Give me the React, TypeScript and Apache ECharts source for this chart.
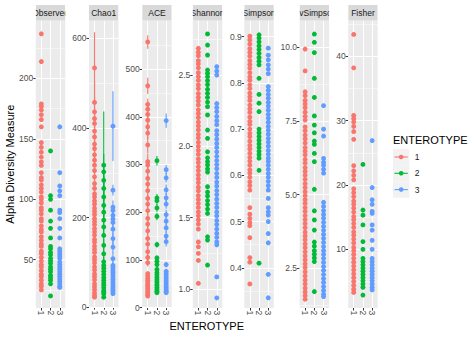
import React, { useEffect, useRef } from "react";
import * as echarts from "echarts";

// ---------- data ----------
const groupNames = ["1", "2", "3"];
const groupColors = ["#F8766D", "#00BA38", "#619CFF"];
const measureNames = ["Observed", "Chao1", "ACE", "Shannon", "Simpson", "InvSimpson", "Fisher"];

const observedG1 = [237, 214, 179, 177, 174, 170, 166, 160, 147, 143, 139, 135, 131, 128, 122, 118, 116, 112, 109, 106, 102, 100, 97, 93, 91, 88, 84, 82, 78, 75, 73, 69, 66, 63, 61, 57, 55, 52, 49, 46, 44, 41, 38, 36, 33, 30, 28, 25];
const observedG2 = [140, 103, 100, 91, 82, 76, 68, 61, 59, 56, 54, 51, 49, 47, 44, 42, 40, 37, 35, 33, 30, 20];
const observedG3 = [160, 122, 111, 107, 103, 91, 89, 84, 76, 68, 59, 57, 55, 53, 51, 48, 46, 44, 42, 40, 38, 36, 34, 32, 30, 28, 27];

// [value, standard error]
const chao1G1 = [[534, 80], [457, 45], [436, 35], [421, 30], [410, 28], [393, 26], [380, 25], [364, 24], [354, 22], [340, 22], [328, 20], [317, 20], [305, 18], [291, 18], [276, 16], [265, 15], [253, 14], [246, 14], [237, 13], [230, 13], [221, 12], [214, 12], [207, 12], [198, 11], [191, 11], [184, 10], [175, 10], [168, 10], [161, 10], [151, 9], [145, 9], [136, 9], [129, 8], [122, 8], [112, 8], [106, 8], [99, 7], [90, 7], [83, 7], [74, 6], [68, 6], [61, 6], [52, 5], [46, 5], [39, 5], [32, 5], [26, 4], [22, 4]];
const chao1G2 = [[317, 120], [302, 40], [283, 30], [265, 28], [246, 25], [227, 24], [212, 22], [194, 20], [179, 20], [160, 18], [138, 15], [119, 14], [101, 12], [93, 10], [87, 10], [80, 9], [73, 8], [66, 8], [60, 7], [54, 7], [49, 6], [43, 6], [37, 5], [33, 5], [29, 5], [22, 4]];
const chao1G3 = [[404, 78], [261, 12], [223, 15], [216, 12], [205, 12], [197, 11], [189, 11], [174, 15], [153, 14], [134, 14], [108, 14], [93, 9], [88, 8], [82, 8], [77, 7], [72, 7], [67, 7], [62, 6], [57, 6], [52, 6], [47, 5], [43, 5], [39, 5], [35, 5], [30, 4]];

const aceG1 = [[557, 14], [465, 17], [426, 12], [416, 12], [405, 12], [393, 12], [379, 13], [366, 13], [341, 18], [306, 16], [299, 10], [286, 10], [271, 10], [259, 10], [245, 10], [229, 10], [217, 10], [203, 10], [187, 10], [175, 10], [161, 10], [145, 10], [133, 10], [117, 10], [105, 9], [94, 8], [71, 5], [66, 5], [61, 5], [57, 5], [52, 4], [48, 4], [44, 4], [40, 4], [35, 4], [31, 3], [27, 3], [24, 3]];
const aceG2 = [[308, 10], [230, 8], [224, 8], [209, 8], [191, 8], [132, 6], [104, 5], [97, 5], [90, 5], [80, 5], [73, 4], [68, 4], [63, 4], [58, 4], [54, 4], [50, 4], [46, 4], [42, 3], [38, 3], [34, 3], [31, 3]];
const aceG3 = [[392, 15], [289, 10], [272, 10], [247, 11], [230, 10], [217, 10], [195, 10], [181, 10], [167, 10], [150, 10], [138, 10], [90, 6], [76, 5], [71, 5], [66, 5], [61, 5], [56, 4], [51, 4], [46, 4], [42, 4], [38, 3], [34, 3], [31, 3]];

const shannonG1 = [2.687, 2.66, 2.635, 2.6, 2.578, 2.55, 2.516, 2.49, 2.463, 2.43, 2.405, 2.37, 2.344, 2.318, 2.29, 2.256, 2.23, 2.202, 2.17, 2.143, 2.115, 2.084, 2.06, 2.028, 2.0, 1.972, 1.944, 1.912, 1.886, 1.857, 1.83, 1.8, 1.772, 1.746, 1.714, 1.688, 1.655, 1.628, 1.6, 1.572, 1.54, 1.513, 1.485, 1.455, 1.42, 1.33, 1.296, 1.25, 1.2, 1.04];
const shannonG2 = [2.788, 2.71, 2.64, 2.535, 2.512, 2.488, 2.46, 2.433, 2.4, 2.372, 2.343, 2.31, 2.278, 2.22, 2.114, 2.056, 1.962, 1.92, 1.893, 1.87, 1.842, 1.82, 1.717, 1.68, 1.652, 1.62, 1.592, 1.56, 1.53, 1.366, 1.343, 1.168];
const shannonG3 = [2.558, 2.528, 2.5, 2.3, 2.272, 2.244, 2.21, 2.18, 2.152, 2.11, 2.082, 2.05, 2.02, 1.992, 1.962, 1.93, 1.9, 1.872, 1.843, 1.81, 1.782, 1.75, 1.722, 1.69, 1.662, 1.63, 1.6, 1.572, 1.54, 1.512, 1.48, 1.452, 1.42, 1.39, 1.362, 1.33, 1.31, 1.085, 0.938];

const simpsonG1 = [0.901, 0.893, 0.884, 0.874, 0.866, 0.858, 0.848, 0.84, 0.832, 0.822, 0.813, 0.806, 0.796, 0.788, 0.778, 0.77, 0.762, 0.752, 0.744, 0.736, 0.726, 0.717, 0.71, 0.7, 0.691, 0.684, 0.674, 0.665, 0.657, 0.648, 0.639, 0.631, 0.622, 0.612, 0.605, 0.596, 0.586, 0.578, 0.568, 0.53, 0.516, 0.507, 0.498, 0.491, 0.465, 0.422, 0.412, 0.365];
const simpsonG2 = [0.904, 0.897, 0.889, 0.88, 0.872, 0.864, 0.855, 0.847, 0.839, 0.81, 0.775, 0.756, 0.738, 0.7, 0.692, 0.684, 0.676, 0.668, 0.66, 0.652, 0.645, 0.637, 0.611, 0.41];
const simpsonG3 = [0.875, 0.86, 0.85, 0.839, 0.83, 0.82, 0.792, 0.784, 0.775, 0.767, 0.758, 0.75, 0.741, 0.732, 0.724, 0.715, 0.706, 0.698, 0.689, 0.68, 0.672, 0.663, 0.654, 0.646, 0.637, 0.63, 0.622, 0.613, 0.604, 0.596, 0.587, 0.578, 0.568, 0.55, 0.53, 0.521, 0.514, 0.5, 0.474, 0.454, 0.386, 0.335];

const invSimpsonG1 = [9.94, 9.2, 8.49, 8.36, 8.2, 8.08, 7.95, 7.8, 7.66, 7.53, 7.3, 7.17, 7.02, 6.89, 6.75, 6.6, 6.48, 6.35, 6.2, 6.07, 5.92, 5.79, 5.66, 5.52, 5.37, 5.24, 5.1, 4.97, 4.83, 4.7, 4.56, 4.43, 4.29, 4.15, 4.02, 3.88, 3.73, 3.6, 3.47, 3.33, 3.2, 3.06, 2.92, 2.79, 2.65, 2.52, 2.38, 2.24, 2.1, 1.97, 1.83, 1.7, 1.57, 1.45];
const invSimpsonG2 = [10.45, 10.17, 9.82, 8.95, 8.3, 7.67, 7.36, 7.1, 6.82, 6.71, 6.4, 6.12, 5.18, 4.45, 4.14, 3.8, 3.39, 3.25, 3.1, 2.98, 2.85, 2.73, 1.71];
const invSimpsonG3 = [8.02, 7.22, 6.99, 6.23, 6.1, 6.0, 5.86, 5.73, 4.74, 4.6, 4.46, 4.33, 4.2, 4.06, 3.92, 3.79, 3.65, 3.52, 3.38, 3.24, 3.1, 2.97, 2.84, 2.7, 2.56, 2.43, 2.29, 2.15, 2.02, 1.88, 1.75, 1.62, 1.54];

const fisherG1 = [43.4, 38.2, 30.8, 30.3, 29.8, 29.1, 28.3, 27.1, 23.0, 22.2, 21.5, 20.8, 19.4, 18.8, 18.2, 17.5, 17.0, 16.4, 15.8, 15.1, 14.6, 14.0, 13.4, 12.7, 12.2, 11.6, 11.0, 10.3, 9.8, 9.2, 8.6, 8.0, 7.4, 6.8, 6.2, 5.6, 5.0, 4.4, 3.8, 3.3];
const fisherG2 = [23.2, 16.1, 15.3, 13.8, 11.2, 10.0, 8.6, 8.1, 7.6, 7.1, 6.6, 6.1, 5.6, 5.1, 4.6, 4.1, 2.9];
const fisherG3 = [26.9, 19.6, 17.7, 17.0, 15.9, 15.6, 13.8, 13.0, 11.4, 10.0, 8.6, 8.1, 7.6, 7.1, 6.6, 6.1, 5.6, 5.1, 4.6, 4.1, 3.7];

// tick labels per facet
const observedTicks = ["50", "100", "150", "200"];
const chao1Ticks = ["0", "200", "400", "600"];
const aceTicks = ["0", "100", "200", "300", "400", "500"];
const shannonTicks = ["1.0", "1.5", "2.0", "2.5"];
const simpsonTicks = ["0.4", "0.5", "0.6", "0.7", "0.8", "0.9"];
const invSimpsonTicks = ["2.5", "5.0", "7.5", "10.0"];
const fisherTicks = ["10", "20", "30", "40"];

// y limits per facet
const observedLim = [10, 248];
const chao1Lim = [-2, 640];
const aceLim = [-1, 602];
const shannonLim = [0.867, 2.882];
const simpsonLim = [0.313, 0.935];
const invSimpsonLim = [1.153, 10.91];
const fisherLim = [0.885, 45.56];

// ---------- layout ----------
const PANEL_LEFTS = [35.8, 89, 142.2, 192.8, 244.3, 299.6, 348.2];
const PANEL_W = 29.5;
const PANEL_TOP = 20.5;
const PANEL_H = 287.5;
const STRIP_TOP = 5;
const STRIP_H = 15.5;
const FONT = '"Liberation Sans", Arial, Helvetica, sans-serif';
const TICK_FS = 8.5;
const TITLE_FS = 11;
const LEGEND_X = 393;
const LEGEND_TITLE_Y = 140;
const LEGEND_KEY_Y = [157, 173.3, 189.6];
const KEY = 16.3;

type Panel = { name: string; groups: any[][]; se: boolean; ticks: string[]; lim: number[] };

const panels: Panel[] = [
  { name: measureNames[0], groups: [observedG1, observedG2, observedG3], se: false, ticks: observedTicks, lim: observedLim },
  { name: measureNames[1], groups: [chao1G1, chao1G2, chao1G3], se: true, ticks: chao1Ticks, lim: chao1Lim },
  { name: measureNames[2], groups: [aceG1, aceG2, aceG3], se: true, ticks: aceTicks, lim: aceLim },
  { name: measureNames[3], groups: [shannonG1, shannonG2, shannonG3], se: false, ticks: shannonTicks, lim: shannonLim },
  { name: measureNames[4], groups: [simpsonG1, simpsonG2, simpsonG3], se: false, ticks: simpsonTicks, lim: simpsonLim },
  { name: measureNames[5], groups: [invSimpsonG1, invSimpsonG2, invSimpsonG3], se: false, ticks: invSimpsonTicks, lim: invSimpsonLim },
  { name: measureNames[6], groups: [fisherG1, fisherG2, fisherG3], se: false, ticks: fisherTicks, lim: fisherLim },
];

function minorBreaks(major: number[], lim: number[]) {
  const out: number[] = [];
  const step = major[1] - major[0];
  const cand = [major[0] - step / 2];
  major.forEach((m) => cand.push(m + step / 2));
  cand.forEach((c) => {
    if (c > lim[0] && c < lim[1]) out.push(c);
  });
  return out;
}

function buildOption() {
  const catPos = groupNames.map((_, i) => i + 1);
  const grid: any[] = [];
  const xAxis: any[] = [];
  const yAxis: any[] = [];
  const series: any[] = [];
  const graphic: any[] = [];

  panels.forEach((p, i) => {
    const majors = p.ticks.map((t) => parseFloat(t));
    const minors = minorBreaks(majors, p.lim);
    grid.push({
      left: PANEL_LEFTS[i],
      top: PANEL_TOP,
      width: PANEL_W,
      height: PANEL_H,
      show: true,
      backgroundColor: "#EBEBEB",
      borderWidth: 0,
      containLabel: false,
      outerBoundsMode: "none",
    });
    xAxis.push({
      type: "value",
      gridIndex: i,
      min: 0.4,
      max: 3.6,
      axisLine: { show: false },
      splitLine: { show: false },
      axisTick: { show: true, length: 2.5, lineStyle: { color: "#333333", width: 1 }, customValues: catPos },
      axisLabel: {
        customValues: catPos,
        rotate: -90,
        margin: 2.5,
        fontSize: TICK_FS,
        fontFamily: FONT,
        color: "#4D4D4D",
        formatter: (v: number) => groupNames[Math.round(v) - 1] ?? "",
      },
    });
    yAxis.push({
      type: "value",
      gridIndex: i,
      min: p.lim[0],
      max: p.lim[1],
      axisLine: { show: false },
      splitLine: { show: false },
      axisTick: { show: true, length: 2.5, lineStyle: { color: "#333333", width: 1 }, customValues: majors },
      axisLabel: {
        customValues: majors,
        margin: 2.5,
        fontSize: TICK_FS,
        fontFamily: FONT,
        color: "#4D4D4D",
        formatter: (v: number) => {
          const k = p.ticks.find((t) => Math.abs(parseFloat(t) - v) < 1e-9);
          return k ?? "";
        },
      },
    });

    p.groups.forEach((vals, g) => {
      const pts = vals.map((d: any) => [g + 1, p.se ? d[0] : d]);
      const s: any = {
        type: "scatter",
        xAxisIndex: i,
        yAxisIndex: i,
        data: pts,
        symbol: "circle",
        symbolSize: 4.9,
        itemStyle: { color: groupColors[g], opacity: 1 },
        z: 3,
        silent: true,
      };
      if (g === 0) {
        s.markLine = {
          silent: true,
          symbol: ["none", "none"],
          label: { show: false },
          z: 1,
          animation: false,
          emphasis: { disabled: true },
          lineStyle: { color: "#FFFFFF", type: "solid", width: 1.07 },
          data: [
            ...majors.map((v) => ({ yAxis: v, lineStyle: { color: "#FFFFFF", type: "solid", width: 1.07 } })),
            ...minors.map((v) => ({ yAxis: v, lineStyle: { color: "#FFFFFF", type: "solid", width: 0.53 } })),
            ...catPos.map((v) => ({ xAxis: v, lineStyle: { color: "#FFFFFF", type: "solid", width: 1.07 } })),
          ],
        };
      }
      series.push(s);
    });

    if (p.se) {
      p.groups.forEach((vals, g) => {
        const color = groupColors[g];
        series.push({
          type: "custom",
          xAxisIndex: i,
          yAxisIndex: i,
          z: 4,
          silent: true,
          clip: true,
          data: vals.map((d: any) => [g + 1, d[0] - d[1], d[0] + d[1]]),
          encode: { x: 0, y: [1, 2] },
          renderItem: (params: any, api: any) => {
            const x = api.value(0);
            const a = api.coord([x, api.value(1)]);
            const b = api.coord([x, api.value(2)]);
            return {
              type: "line",
              shape: { x1: a[0], y1: a[1], x2: b[0], y2: b[1] },
              style: { stroke: color, lineWidth: 1.1 },
            };
          },
        });
      });
    }

    // strip
    const x0 = PANEL_LEFTS[i];
    graphic.push({ type: "rect", silent: true, z: 10, shape: { x: x0, y: STRIP_TOP, width: PANEL_W, height: STRIP_H }, style: { fill: "#D9D9D9" } });
    graphic.push({
      type: "text",
      silent: true,
      z: 11,
      x: x0 + PANEL_W / 2,
      y: STRIP_TOP + STRIP_H / 2 + 0.5,
      style: { text: p.name, fill: "#1A1A1A", fontSize: TICK_FS, fontFamily: FONT, align: "center", verticalAlign: "middle", textAlign: "center", textVerticalAlign: "middle" },
    });
    graphic.push({ type: "rect", silent: true, z: 12, shape: { x: x0 - 10, y: STRIP_TOP, width: 10, height: STRIP_H }, style: { fill: "#FFFFFF" } });
    graphic.push({ type: "rect", silent: true, z: 12, shape: { x: x0 + PANEL_W, y: STRIP_TOP, width: 10, height: STRIP_H }, style: { fill: "#FFFFFF" } });
  });

  // axis titles
  graphic.push({
    type: "text",
    silent: true,
    x: 10,
    y: PANEL_TOP + PANEL_H / 2,
    rotation: Math.PI / 2,
    style: { text: "Alpha Diversity Measure", fill: "#000000", fontSize: TITLE_FS, fontFamily: FONT, align: "center", verticalAlign: "middle", textAlign: "center", textVerticalAlign: "middle" },
  });
  graphic.push({
    type: "text",
    silent: true,
    x: (PANEL_LEFTS[0] + PANEL_LEFTS[6] + PANEL_W) / 2,
    y: 326,
    style: { text: "ENTEROTYPE", fill: "#000000", fontSize: TITLE_FS, fontFamily: FONT, align: "center", verticalAlign: "middle", textAlign: "center", textVerticalAlign: "middle" },
  });

  // legend
  graphic.push({
    type: "text",
    silent: true,
    x: LEGEND_X,
    y: LEGEND_TITLE_Y,
    style: { text: "ENTEROTYPE", fill: "#000000", fontSize: TITLE_FS, fontFamily: FONT, align: "left", verticalAlign: "middle", textAlign: "left", textVerticalAlign: "middle" },
  });
  groupNames.forEach((gname, g) => {
    const cy = LEGEND_KEY_Y[g];
    graphic.push({ type: "rect", silent: true, shape: { x: LEGEND_X, y: cy - KEY / 2, width: KEY, height: KEY }, style: { fill: "#F2F2F2" } });
    graphic.push({ type: "line", silent: true, shape: { x1: LEGEND_X + 1.5, y1: cy, x2: LEGEND_X + KEY - 1.5, y2: cy }, style: { stroke: groupColors[g], lineWidth: 1.1 } });
    graphic.push({ type: "circle", silent: true, shape: { cx: LEGEND_X + KEY / 2, cy, r: 2.3 }, style: { fill: groupColors[g] } });
    graphic.push({
      type: "text",
      silent: true,
      x: LEGEND_X + KEY + 5.5,
      y: cy,
      style: { text: gname, fill: "#1A1A1A", fontSize: TICK_FS, fontFamily: FONT, align: "left", verticalAlign: "middle", textAlign: "left", textVerticalAlign: "middle" },
    });
  });

  return {
    animation: false,
    backgroundColor: "#FFFFFF",
    textStyle: { fontFamily: FONT },
    grid,
    xAxis,
    yAxis,
    series,
    graphic,
  };
}

export default function App() {
  const ref = useRef<HTMLDivElement>(null);
  useEffect(() => {
    document.body.style.margin = "0";
    if (!ref.current) return;
    const chart = echarts.init(ref.current, undefined, { renderer: "svg" });
    chart.setOption(buildOption() as any);
    return () => chart.dispose();
  }, []);
  return <div ref={ref} style={{ width: 474, height: 338 }} />;
}
